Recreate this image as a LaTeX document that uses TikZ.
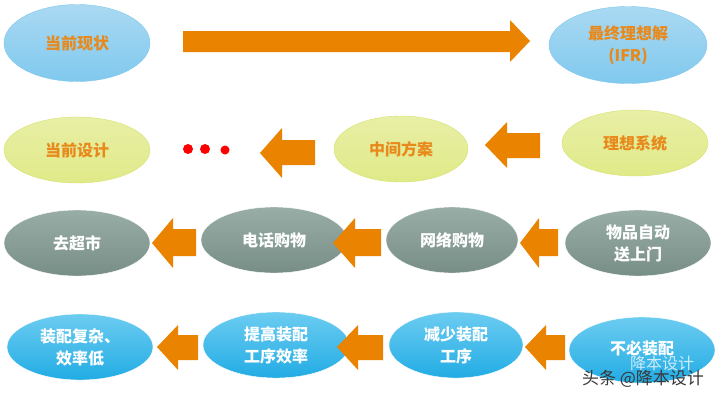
\documentclass[tikz,border=0pt]{standalone}
\usepackage{fontspec}
\newfontfamily\cjk{Noto Sans CJK SC}
\usetikzlibrary{shapes.geometric}

\definecolor{arroworange}{HTML}{E98300}
\definecolor{textorange}{HTML}{E8891C}
\definecolor{bluetop}{HTML}{AAD9F2}
\definecolor{bluebottom}{HTML}{80C9EE}
\definecolor{blueline}{HTML}{7CC7EC}
\definecolor{greentop}{HTML}{E8EFA6}
\definecolor{greenbottom}{HTML}{E0EA88}
\definecolor{greenline}{HTML}{D5E16E}
\definecolor{greytop}{HTML}{98ADA6}
\definecolor{greybottom}{HTML}{778E87}
\definecolor{skytop}{HTML}{6CCCF1}
\definecolor{skybottom}{HTML}{22ACE4}

\tikzset{
  oval/.style={ellipse, inner sep=0pt, minimum width=146pt, minimum height=66pt,
    font=\cjk\bfseries\fontsize{16}{22}\selectfont, align=center},
  blueoval/.style={oval, draw=blueline, top color=bluetop, bottom color=bluebottom,
    text=textorange, minimum height=77pt},
  greenoval/.style={oval, draw=greenline, top color=greentop, bottom color=greenbottom,
    text=textorange},
  greyoval/.style={oval, draw=white, top color=greytop, bottom color=greybottom,
    text=white},
  skyoval/.style={oval, draw=white, top color=skytop, bottom color=skybottom,
    text=white},
  blockarrow/.style={fill=arroworange},
  reddot/.style={circle, fill=red, inner sep=0pt, minimum size=10pt}
}

\begin{document}
\begin{tikzpicture}[x=1pt,y=-1pt]
\useasboundingbox (0,0) rectangle (720,400);

% first row
\node[blueoval] (now) at (77,43) {当前现状};
\node[blueoval, minimum width=158pt] (ifr) at (628,45) {最终理想解\\(IFR)};
\fill[blockarrow] (183,31) -- (510,31) -- (510,20) -- (530,41) -- (510,62) -- (510,52) -- (183,52) -- cycle;

% second row
\node[greenoval] (design) at (77,150) {当前设计};
\node[greenoval, minimum width=134pt] (middle) at (401,149) {中间方案};
\node[greenoval] (ideal) at (635,143) {理想系统};
\node[reddot] (dotA) at (188,149) {};
\node[reddot] (dotB) at (205,149) {};
\node[reddot, minimum size=9pt] (dotC) at (225,150) {};
\fill[blockarrow] (315,140) -- (282,140) -- (282,128) -- (260,153) -- (282,178) -- (282,165) -- (315,165) -- cycle;
\fill[blockarrow] (540,133) -- (507,133) -- (507,122) -- (485,145) -- (507,168) -- (507,158) -- (540,158) -- cycle;

% third row
\node[greyoval] (market) at (77,243) {去超市};
\node[greyoval] (phone) at (274,240) {电话购物};
\node[greyoval, minimum width=132pt] (online) at (452,240) {网络购物};
\node[greyoval] (delivery) at (638,243) {物品自动\\送上门};
\fill[blockarrow] (196,229) -- (173,229) -- (173,218) -- (152,243) -- (173,268) -- (173,256) -- (196,256) -- cycle;
\fill[blockarrow] (381,229) -- (355,229) -- (355,218) -- (333,243) -- (355,268) -- (355,256) -- (381,256) -- cycle;
\fill[blockarrow] (558,229) -- (539,229) -- (539,218) -- (520,243) -- (539,268) -- (539,256) -- (558,256) -- cycle;

% fourth row
\node[skyoval] (complex) at (80,347) {装配复杂、\\效率低};
\node[skyoval] (raise) at (276,345) {提高装配\\工序效率};
\node[skyoval, minimum width=134pt] (reduce) at (456,345) {减少装配\\工序};
\node[skyoval] (noneed) at (642,350) {\raisebox{4pt}{不必装配}};
\fill[blockarrow] (198,335) -- (178,335) -- (178,325) -- (157,347) -- (178,370) -- (178,360) -- (198,360) -- cycle;
\fill[blockarrow] (383,335) -- (358,335) -- (358,325) -- (337,347) -- (358,370) -- (358,360) -- (383,360) -- cycle;
\fill[blockarrow] (565,335) -- (546,335) -- (546,325) -- (525,347) -- (546,370) -- (546,360) -- (565,360) -- cycle;

% watermark
\node[font=\cjk\fontsize{16}{16}\selectfont, text=white, opacity=0.75] (markA) at (662,363) {降本设计};
\node[font=\cjk\fontsize{17}{17}\selectfont, text=black!78] (markB) at (643,379) {头条 @降本设计};

\end{tikzpicture}
\end{document}
